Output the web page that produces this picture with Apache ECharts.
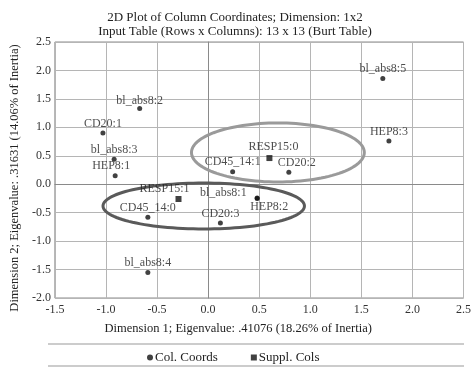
<!DOCTYPE html>
<html><head><meta charset="utf-8">
<script src="https://cdn.jsdelivr.net/npm/echarts@6/dist/echarts.min.js"></script>
<style>html,body{margin:0;padding:0;background:#fff}#c{width:474px;height:370px}</style>
</head><body><div id="c"></div>
<script>
// Column coordinates
const colNames = ['bl_abs8:2','CD20:1','bl_abs8:3','HEP8:1','CD45_14:1','bl_abs8:5','HEP8:3','CD20:2','CD45_14:0','CD20:3','bl_abs8:4','bl_abs8:1','HEP8:2'];
const colX = [-0.67,-1.03,-0.92,-0.91,0.24,1.71,1.77,0.79,-0.59,0.12,-0.59,0.48,0.48];
const colY = [1.33,0.90,0.44,0.15,0.22,1.86,0.76,0.21,-0.58,-0.68,-1.55,-0.24,-0.25];
// Supplementary columns
const supNames = ['RESP15:0','RESP15:1'];
const supX = [0.60,-0.29];
const supY = [0.46,-0.26];
// Ellipses (centre, radii in data units)
const ellCX = [0.683,-0.043];
const ellCY = [0.558,-0.383];
const ellRX = [0.846,0.986];
const ellRY = [0.519,0.404];
const ellColor = ['#9a9a9a','#5a5a5a'];
// Axis ticks
const xTicks = [-1.5,2.5,0.5];
const yTicks = [-2.0,2.5,0.5];

const FONT = 'Liberation Serif';
const labelStyle = {
  'bl_abs8:1': {position:'left', distance:8, offset:[0,-5]},
  'HEP8:2': {position:'bottom', distance:0, offset:[12,0]},
  'CD20:2': {offset:[8,0]},
  'RESP15:1': {offset:[-14,0]},
  'RESP15:0': {offset:[4,-1]},
  'HEP8:1': {offset:[-4,0]},
  'bl_abs8:2': {offset:[0,2]}
};
function mk(names, xs, ys){
  return names.map((n,i)=>{
    const o = {name:n, value:[xs[i],ys[i]]};
    if (labelStyle[n]) o.label = Object.assign({}, labelStyle[n]);
    return o;
  });
}
const ellData = ellCX.map((c,i)=>({value:[c,ellCY[i],ellRX[i],ellRY[i]]}));

const chart = echarts.init(document.getElementById('c'), null, {renderer:'canvas'});
const lbl = {show:true, position:'top', distance:1, formatter:'{b}', color:'#222', fontFamily:FONT, fontSize:12};
chart.setOption({
  animation:false,
  textStyle:{fontFamily:FONT},
  title:{
    text:'2D Plot of Column Coordinates; Dimension: 1x2\nInput Table (Rows x Columns): 13 x 13 (Burt Table)',
    left:230, top:5, textAlign:'center',
    textStyle:{fontFamily:FONT, fontSize:13, fontWeight:'normal', color:'#222', lineHeight:14.3}
  },
  grid:{left:48, right:10, top:42, bottom:72, show:true, borderColor:'#8a8a8a', borderWidth:1},
  legend:{
    data:[{name:'Col. Coords', icon:'circle'},{name:'Suppl. Cols', icon:'rect'}],
    left:142, top:346, itemWidth:6, itemHeight:6, itemGap:33,
    textStyle:{fontFamily:FONT, fontSize:13, color:'#222', padding:[0,0,0,-3]}
  },
  xAxis:{
    type:'value', min:xTicks[0], max:xTicks[1], interval:xTicks[2],
    name:'Dimension 1; Eigenvalue: .41076 (18.26% of Inertia)', nameLocation:'middle', nameGap:24,
    nameTextStyle:{fontFamily:FONT, fontSize:12.5, color:'#222', padding:[0,42,0,0]},
    axisLine:{show:true, lineStyle:{color:'#8a8a8a'}}, axisTick:{show:false},
    axisLabel:{margin:6, color:'#333', fontFamily:FONT, fontSize:12, formatter:v=>v.toFixed(1)},
    splitLine:{show:true, lineStyle:{color:'#b5b5b5', width:1}}
  },
  yAxis:{
    type:'value', min:yTicks[0], max:yTicks[1], interval:yTicks[2],
    name:'Dimension 2; Eigenvalue: .31631 (14.06% of Inertia)', nameLocation:'middle', nameGap:30,
    nameTextStyle:{fontFamily:FONT, fontSize:12.5, color:'#222', padding:[0,16,0,0]},
    axisLine:{show:true, lineStyle:{color:'#8a8a8a'}}, axisTick:{show:false},
    axisLabel:{margin:4, color:'#333', fontFamily:FONT, fontSize:12, formatter:v=>v.toFixed(1)},
    splitLine:{show:true, lineStyle:{color:'#b5b5b5', width:1}}
  },
  graphic:[
    {type:'line', shape:{x1:48,y1:344,x2:464,y2:344}, style:{stroke:'#999', lineWidth:1}},
    {type:'line', shape:{x1:48,y1:366,x2:464,y2:366}, style:{stroke:'#999', lineWidth:1}}
  ],
  series:[
    {
      type:'custom', name:'ellipses', silent:true, z:1, data:ellData,
      renderItem:function(params, api){
        const c = api.coord([api.value(0), api.value(1)]);
        const s = api.size([api.value(2), api.value(3)]);
        const pts = [];
        for (let i=0;i<120;i++){ const t=i/120*2*Math.PI; pts.push([c[0]+s[0]*Math.cos(t), c[1]-s[1]*Math.sin(t)]); }
        return {type:'polygon', shape:{points:pts}, style:{fill:'none', stroke: ellColor[params.dataIndex], lineWidth:3}};
      }
    },
    {type:'scatter', name:'Col. Coords', symbol:'circle', symbolSize:5, z:3, itemStyle:{color:'#111'}, label:lbl, data:mk(colNames,colX,colY)},
    {type:'scatter', name:'Suppl. Cols', symbol:'rect', symbolSize:6, z:3, itemStyle:{color:'#111'}, label:lbl, data:mk(supNames,supX,supY)}
  ]
});
</script></body></html>
